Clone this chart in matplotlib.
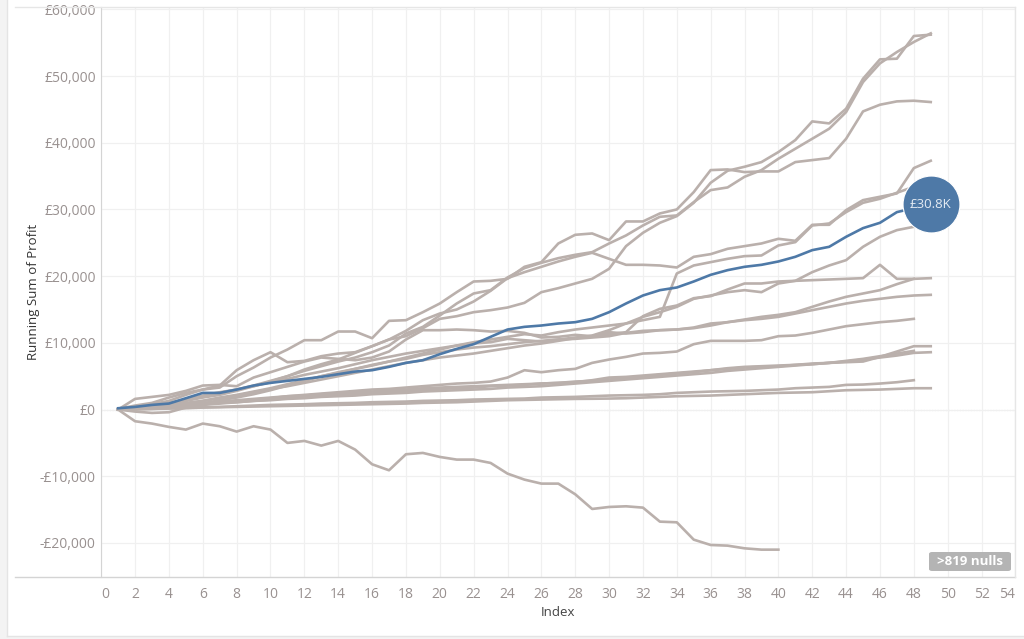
import numpy as np
import matplotlib.pyplot as plt
from matplotlib.lines import Line2D
from matplotlib.patches import FancyBboxPatch, Rectangle
from matplotlib.ticker import FuncFormatter

plt.rcParams['font.family'] = ['Open Sans', 'DejaVu Sans']

# running sum of profit (in £K) per index, one list per sub-category
top_a = [0, 0.3, 0.6, 1.0, 1.5, 2.0, 2.5, 3.0, 3.6, 4.3, 5.0, 5.8, 6.5, 7.2, 7.8, 8.6, 9.6,
         11.4, 12.4, 14.1, 15.9, 17.4, 17.9, 19.8, 21.2, 22.0, 22.7, 23.2, 23.6, 24.9, 26.1,
         27.6, 28.9, 29.1, 31.1, 32.9, 33.3, 34.9, 35.9, 37.6, 39.1, 40.6, 42.1, 44.6, 49.1,
         51.9, 53.6, 55.1, 56.4]
top_b = [0, 0.2, 0.5, 0.9, 1.3, 1.8, 2.2, 2.8, 3.5, 4.2, 5.0, 6.0, 6.8, 7.5, 8.5, 9.5, 10.5,
         11.0, 12.2, 13.6, 14.0, 14.6, 14.9, 15.3, 16.0, 17.6, 18.2, 18.9, 19.6, 21.1, 24.5,
         26.5, 28.0, 29.0, 31.0, 34.0, 35.8, 36.4, 37.1, 38.6, 40.4, 43.2, 42.9, 45.1, 49.6,
         52.5, 52.6, 56.0, 56.2]
third = [0.1, 0.6, 1.0, 1.8, 2.5, 3.0, 3.3, 5.0, 6.3, 7.8, 9.0, 10.4, 10.4, 11.7, 11.7, 10.7,
         13.3, 13.4, 14.6, 15.9, 17.6, 19.2, 19.3, 19.6, 21.4, 22.1, 24.9, 26.2, 26.4, 25.4,
         28.2, 28.2, 29.4, 30.0, 32.6, 35.9, 36.0, 35.6, 35.7, 35.7, 37.1, 37.4, 37.7, 40.6,
         44.7, 45.7, 46.2, 46.3, 46.1]
fourth = [0, 0.4, 0.8, 1.3, 2.2, 3.0, 3.6, 5.9, 7.4, 8.6, 7.1, 7.3, 8.0, 8.4, 8.6, 9.5, 10.5,
          11.8, 13.4, 14.4, 15.0, 16.2, 17.8, 19.7, 20.6, 21.4, 22.2, 22.9, 23.5, 22.6, 21.7,
          21.7, 21.6, 21.3, 22.9, 23.3, 24.1, 24.5, 24.9, 25.6, 25.3, 27.7, 27.7, 29.9, 31.4,
          31.9, 32.4, 36.2, 37.3]
jumper = [0, -0.3, -0.5, -0.4, 0.3, 0.9, 1.4, 1.8, 2.3, 2.9, 3.6, 4.3, 5.0, 5.6, 6.1, 6.6,
          7.2, 7.8, 8.4, 9.0, 9.6, 10.1, 10.5, 10.9, 11.3, 11.1, 11.6, 12.0, 12.3, 12.6, 12.9,
          13.4, 13.9, 20.4, 21.6, 22.1, 22.6, 23.0, 23.1, 24.6, 25.1, 27.6, 27.9, 29.6, 31.0,
          31.6, 32.5, 33.4]
below_blue = [0, 0.1, 0.3, 0.6, 1.0, 1.3, 1.7, 2.1, 2.6, 3.1, 3.5, 4.0, 4.5, 5.0, 5.5, 6.0,
              6.5, 7.0, 7.4, 7.8, 8.1, 8.4, 8.8, 9.2, 9.6, 9.9, 10.3, 10.7, 11.1, 11.9, 12.9,
              13.9, 14.6, 15.4, 16.6, 17.1, 17.6, 17.9, 17.6, 18.9, 19.3, 20.6, 21.6, 22.4,
              24.4, 25.9, 26.9, 27.4]
bump = [0, 0.2, 0.5, 0.9, 1.5, 2.1, 2.6, 3.0, 3.5, 4.1, 4.6, 5.2, 5.7, 6.2, 6.8, 7.4, 7.9,
        8.4, 8.8, 9.2, 9.6, 9.9, 10.1, 10.6, 10.4, 10.2, 10.5, 10.8, 11.0, 11.3, 11.6, 14.0,
        15.1, 15.6, 16.7, 17.0, 18.0, 18.9, 18.9, 19.2, 19.3, 19.4, 19.5, 19.6, 19.7, 21.7,
        19.6, 19.6, 19.7]
mid_g = [0, 1.6, 1.9, 2.2, 2.8, 3.6, 3.7, 3.5, 4.8, 5.6, 6.4, 7.2, 7.8, 7.6, 7.4, 7.8, 8.7,
         10.5, 11.9, 11.9, 12.0, 11.9, 11.7, 11.8, 11.5, 10.8, 10.9, 11.2, 11.0, 11.6, 11.4,
         11.6, 11.9, 12.0, 12.2, 12.6, 13.1, 13.5, 13.9, 14.2, 14.6, 15.4, 16.2, 16.9, 17.4,
         17.9, 18.8, 19.6]
mid_h = [0, 0.1, 0.2, 0.5, 0.9, 1.3, 1.8, 2.2, 2.7, 3.2, 3.8, 4.4, 5.0, 5.5, 6.1, 6.7, 7.2,
         7.6, 8.2, 8.6, 9.0, 9.3, 9.5, 9.8, 10.1, 10.3, 10.5, 10.6, 10.8, 11.0, 11.5, 11.8,
         11.9, 12.0, 12.3, 12.9, 13.1, 13.4, 13.6, 13.9, 14.4, 14.9, 15.4, 15.9, 16.3, 16.6,
         16.9, 17.1, 17.2]
mid_i = [0, 0.1, 0.2, 0.4, 0.6, 0.8, 1.0, 1.2, 1.5, 1.7, 2.0, 2.2, 2.4, 2.6, 2.8, 3.0, 3.1,
         3.3, 3.5, 3.7, 3.9, 4.0, 4.2, 4.8, 5.9, 5.6, 5.9, 6.1, 7.0, 7.5, 7.9, 8.4, 8.5, 8.7,
         9.8, 10.3, 10.3, 10.3, 10.4, 11.0, 11.1, 11.5, 12.0, 12.5, 12.8, 13.1, 13.3, 13.6]
low_j = [0, 0.1, 0.2, 0.3, 0.5, 0.7, 0.9, 1.1, 1.3, 1.5, 1.7, 1.9, 2.0, 2.2, 2.3, 2.5, 2.6,
         2.8, 2.9, 3.1, 3.2, 3.3, 3.5, 3.6, 3.7, 3.9, 4.0, 4.1, 4.4, 4.8, 4.9, 5.1, 5.3, 5.5,
         5.7, 5.9, 6.1, 6.3, 6.4, 6.5, 6.7, 6.9, 7.0, 7.1, 7.2, 7.9, 8.7, 9.5, 9.5]
low_k = [0, 0.2, 0.4, 0.6, 0.8, 1.0, 1.2, 1.4, 1.6, 1.8, 2.0, 2.1, 2.3, 2.4, 2.6, 2.7, 2.9,
         3.0, 3.2, 3.3, 3.4, 3.5, 3.6, 3.7, 3.8, 3.9, 4.0, 4.2, 4.3, 4.5, 4.7, 4.9, 5.2, 5.4,
         5.6, 5.9, 6.2, 6.4, 6.5, 6.6, 6.7, 6.8, 7.0, 7.3, 7.6, 8.0, 8.4, 8.8]
low_l = [0, 0.1, 0.3, 0.5, 0.7, 0.8, 1.0, 1.1, 1.3, 1.4, 1.6, 1.7, 1.9, 2.0, 2.1, 2.3, 2.4,
         2.5, 2.7, 2.8, 2.9, 3.0, 3.1, 3.3, 3.4, 3.5, 3.7, 3.9, 4.1, 4.3, 4.5, 4.7, 4.9, 5.1,
         5.3, 5.5, 5.8, 6.0, 6.2, 6.4, 6.6, 6.8, 7.0, 7.2, 7.5, 7.8, 8.1, 8.5, 8.6]
low_m = [0, 0.05, 0.1, 0.2, 0.3, 0.35, 0.4, 0.5, 0.6, 0.7, 0.75, 0.8, 0.9, 0.95, 1.0, 1.1,
         1.15, 1.2, 1.3, 1.35, 1.4, 1.5, 1.55, 1.6, 1.65, 1.8, 1.85, 1.9, 2.0, 2.1, 2.15, 2.2,
         2.3, 2.5, 2.6, 2.7, 2.75, 2.8, 2.9, 3.0, 3.2, 3.3, 3.4, 3.7, 3.75, 3.9, 4.1, 4.4]
low_n = [0, 0.05, 0.1, 0.15, 0.2, 0.3, 0.35, 0.4, 0.45, 0.5, 0.55, 0.6, 0.65, 0.7, 0.75,
         0.8, 0.85, 0.9, 1.0, 1.05, 1.1, 1.2, 1.3, 1.4, 1.45, 1.5, 1.55, 1.6, 1.62, 1.65, 1.7,
         1.8, 1.9, 2.0, 2.05, 2.1, 2.2, 2.3, 2.4, 2.5, 2.55, 2.6, 2.75, 2.9, 2.95, 3.0, 3.1,
         3.2, 3.2]
negative = [0, -1.75, -2.1, -2.6, -3.0, -2.1, -2.5, -3.3, -2.5, -3.0, -5.0, -4.7, -5.4, -4.7,
            -6.0, -8.2, -9.1, -6.7, -6.5, -7.1, -7.5, -7.5, -8.0, -9.6, -10.5, -11.1, -11.1,
            -12.7, -14.9, -14.6, -14.5, -14.7, -16.8, -16.9, -19.5, -20.3, -20.4, -20.8,
            -21.0, -21.0]
highlight = [0.2, 0.4, 0.7, 0.9, 1.7, 2.5, 2.5, 3.0, 3.6, 4.0, 4.3, 4.6, 4.9, 5.3, 5.7, 5.9,
             6.4, 7.0, 7.4, 8.3, 9.1, 9.8, 10.9, 12.0, 12.4, 12.6, 12.9, 13.1, 13.6, 14.6,
             15.9, 17.1, 17.9, 18.3, 19.2, 20.2, 20.9, 21.4, 21.7, 22.2, 22.9, 23.9, 24.4,
             25.9, 27.2, 28.0, 29.6, 30.2, 30.8]

grey_series = [top_a, top_b, third, fourth, jumper, below_blue, bump, mid_g, mid_h, mid_i,
               low_j, low_k, low_l, low_m, low_n, negative]

y_ticks = [-20000, -10000, 0, 10000, 20000, 30000, 40000, 50000, 60000]
x_ticks = list(range(0, 55, 2))

GREY = '#bab0ac'
BLUE = '#4e79a7'
TXT = '#999190'

fig = plt.figure(figsize=(10.24, 6.39), dpi=100)
W, H = 1024, 639

# outer frame of the dashboard pane
fig.add_artist(Rectangle((0, 0), 7 / W, 1, transform=fig.transFigure, fc='#f3f3f3', ec='none'))
fig.add_artist(Rectangle((0, 0), 1, 3 / H, transform=fig.transFigure, fc='#f3f3f3', ec='none'))
fig.add_artist(Line2D([7 / W] * 2, [3 / H, 1], color='#e4e4e4', lw=1))
fig.add_artist(Line2D([7 / W, 1], [3 / H] * 2, color='#e4e4e4', lw=1))

ax = fig.add_axes([101.2 / W, (H - 577) / H, (1015.4 - 101.2) / W, (577 - 7) / H])

for s in grey_series:
    idx = np.arange(1, len(s) + 1)
    ax.plot(idx, np.array(s) * 1000, color=GREY, lw=1.9, solid_joinstyle='round', zorder=2)

idx = np.arange(1, len(highlight) + 1)
ax.plot(idx, np.array(highlight) * 1000, color=BLUE, lw=1.9, zorder=3)
ax.plot(idx[-1], highlight[-1] * 1000, 'o', ms=41, color=BLUE, mec='white', mew=0.8, zorder=4)
ax.text(idx[-1], highlight[-1] * 1000, '£%.1fK' % highlight[-1], color='#e4ebf3',
        fontsize=9.5, ha='center', va='center', zorder=5)

ax.set_xlim(0, 54)
ax.set_ylim(-25100, 60350)
ax.set_xticks(x_ticks)
ax.set_yticks(y_ticks)


def money(v, pos):
    return ('-£{:,.0f}' if v < 0 else '£{:,.0f}').format(abs(v))


ax.yaxis.set_major_formatter(FuncFormatter(money))
ax.tick_params(length=0, colors=TXT, labelsize=10)
ax.tick_params(axis='x', pad=7)
ax.tick_params(axis='y', pad=4)
xl = ax.get_xticklabels()
xl[0].set_ha('left')
xl[-1].set_ha('right')

ax.grid(True, color='#f0f0f0', lw=0.9, zorder=0)
ax.axhline(0, color='#c8c8c8', lw=0.8, ls=(0, (1, 1.5)), zorder=1)

for side in ['top', 'right']:
    ax.spines[side].set_visible(False)
ax.spines['left'].set_color('#d4d4d4')
ax.spines['bottom'].set_visible(False)

ax.set_xlabel('Index', color='#444444', fontsize=9.5, labelpad=3)
ax.set_ylabel('Running Sum of Profit', color='#333333', fontsize=9.5, labelpad=0)

# pane border lines
fig.add_artist(Line2D([15 / W, 1015 / W], [1 - 577 / H] * 2, color='#d4d4d4', lw=1))
fig.add_artist(Line2D([15 / W, 1015 / W], [1 - 7 / H] * 2, color='#e6e6e6', lw=1))
fig.add_artist(Line2D([1015 / W] * 2, [1 - 7 / H, 1 - 577 / H], color='#e6e6e6', lw=1))

# nulls badge
badge = FancyBboxPatch((929 / W, 1 - 571 / H), 82 / W, 19 / H,
                       boxstyle='round,pad=0,rounding_size=0.003',
                       transform=fig.transFigure, fc='#b4b4b4', ec='none')
fig.add_artist(badge)
fig.text(970 / W, 1 - 561.5 / H, '>819 nulls', color='white', fontsize=9.5, fontweight='bold',
         ha='center', va='center')

fig.savefig('out.png', dpi=100, facecolor='white')
